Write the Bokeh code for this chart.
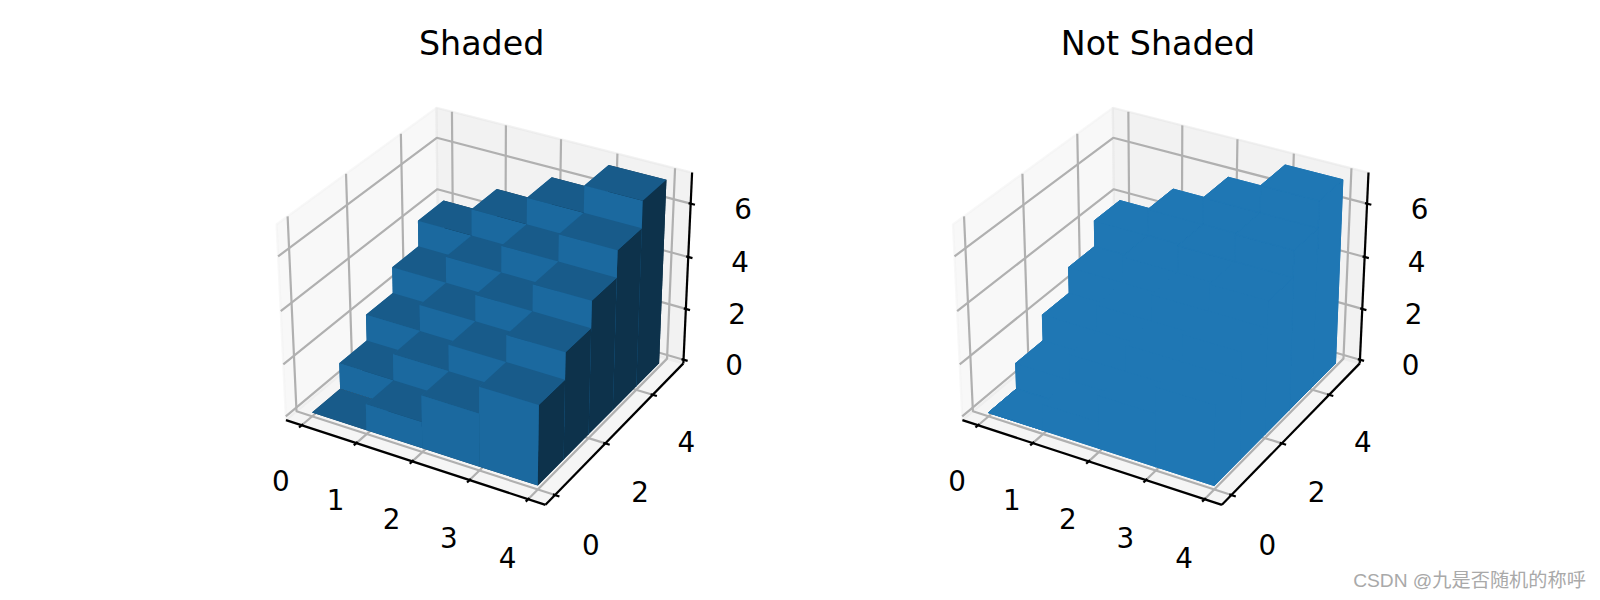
import numpy as np
from bokeh.embed import file_html
from bokeh.resources import INLINE
from bokeh.plotting import figure
from bokeh.layouts import row
from bokeh.models import Range1d, ColumnDataSource
from bokeh.core.properties import value

# ---- chart data
titles = ["Shaded", "Not Shaded"]
x_left = [0, 1, 2, 3]
y_front = [0, 1, 2, 3, 4]
bar_width = 1
bar_depth = 1
tops = [
    [0, 1, 2, 3, 4],
    [1, 2, 3, 4, 5],
    [2, 3, 4, 5, 6],
    [3, 4, 5, 6, 7],
]
x_ticks = [0, 1, 2, 3, 4]
y_ticks = [0, 2, 4]
z_ticks = [0, 2, 4, 6]
watermark = "CSDN @九是否随机的称呼"

BASE = np.array([31, 119, 180]) / 255.0
ELEV, AZIM, DIST = np.radians(30), np.radians(-60), 10.0
XLIM = (-0.2, 4.2)
YLIM = (-0.25, 5.25)
ZLIM = (0.0, 7.0)
ASPECT = np.array([4.0, 4.0, 3.0]) * 1.8294640721620434 / np.linalg.norm([4, 4, 3])

# figure geometry of the source: 1600x600 page, axes square of 462 px
AX_SIZE = 462.0
AX_CX = [481.6, 1158.0]
AX_CY = 302.5
LABEL_DROP = 11.7
TICK_OUT = 0.2
TICK_IN = 0.1


def proj_matrix():
    mins = np.array([XLIM[0], YLIM[0], ZLIM[0]])
    maxs = np.array([XLIM[1], YLIM[1], ZLIM[1]])
    d = (maxs - mins) / ASPECT
    world = np.array([[1 / d[0], 0, 0, -mins[0] / d[0]],
                      [0, 1 / d[1], 0, -mins[1] / d[1]],
                      [0, 0, 1 / d[2], -mins[2] / d[2]],
                      [0, 0, 0, 1]])
    R = 0.5 * ASPECT
    eye = R + DIST * np.array([np.cos(ELEV) * np.cos(AZIM), np.cos(ELEV) * np.sin(AZIM), np.sin(ELEV)])
    w = (eye - R) / np.linalg.norm(eye - R)
    u = np.cross([0, 0, 1.0], w)
    u /= np.linalg.norm(u)
    v = np.cross(w, u)
    rot = np.eye(4)
    rot[0, :3], rot[1, :3], rot[2, :3] = u, v, w
    tr = np.eye(4)
    tr[:3, 3] = -eye
    persp = np.array([[1, 0, 0, 0], [0, 1, 0, 0], [0, 0, 0, -DIST], [0, 0, -1, 0]], dtype=float)
    return persp @ rot @ tr @ world


M = proj_matrix()


def project(pts, cx):
    pts = np.atleast_2d(np.asarray(pts, dtype=float))
    h = np.c_[pts, np.ones(len(pts))] @ M.T
    px, py, pz = h[:, 0] / h[:, 3], h[:, 1] / h[:, 3], h[:, 2] / h[:, 3]
    scale = AX_SIZE / 0.185
    left = cx - AX_SIZE / 2
    bottom = AX_CY + AX_SIZE / 2
    return left + (px + 0.095) * scale, bottom - (py + 0.095) * scale, pz


def shade(normal):
    light = np.array([-2 / 3, -2 / 3, 1 / 3])
    s = (np.dot(normal, light) + 1) / 2
    return 0.3 + 0.7 * s


def rgb(c):
    c = np.clip(np.round(c * 255), 0, 255).astype(int)
    return "#%02x%02x%02x" % tuple(c)


def bar_faces():
    faces = []
    for i, x0 in enumerate(x_left):
        for j, y0 in enumerate(y_front):
            x1, y1, z0, z1 = x0 + bar_width, y0 + bar_depth, 0, tops[i][j]
            faces += [
                ([(x0, y0, z0), (x1, y0, z0), (x1, y1, z0), (x0, y1, z0)], (0, 0, -1)),
                ([(x0, y0, z1), (x1, y0, z1), (x1, y1, z1), (x0, y1, z1)], (0, 0, 1)),
                ([(x0, y0, z0), (x1, y0, z0), (x1, y0, z1), (x0, y0, z1)], (0, -1, 0)),
                ([(x0, y1, z0), (x1, y1, z0), (x1, y1, z1), (x0, y1, z1)], (0, 1, 0)),
                ([(x0, y0, z0), (x0, y1, z0), (x0, y1, z1), (x0, y0, z1)], (-1, 0, 0)),
                ([(x1, y0, z0), (x1, y1, z0), (x1, y1, z1), (x1, y0, z1)], (1, 0, 0)),
            ]
    return faces


def draw_axes3d(p, cx, title):
    lo = np.array([XLIM[0], YLIM[0], ZLIM[0]])
    hi = np.array([XLIM[1], YLIM[1], ZLIM[1]])
    deltas = (hi - lo) / 12
    center = (hi + lo) / 2
    l, h = lo - deltas / 4, hi + deltas / 4

    # panes
    panes = [
        ([(l[0], l[1], l[2]), (l[0], h[1], l[2]), (l[0], h[1], h[2]), (l[0], l[1], h[2])], 0.95),
        ([(l[0], h[1], l[2]), (h[0], h[1], l[2]), (h[0], h[1], h[2]), (l[0], h[1], h[2])], 0.90),
        ([(l[0], l[1], l[2]), (h[0], l[1], l[2]), (h[0], h[1], l[2]), (l[0], h[1], l[2])], 0.925),
    ]
    pxs, pys, pcs = [], [], []
    for quad, g in panes:
        sx, sy, _ = project(quad, cx)
        pxs.append(list(sx)); pys.append(list(sy)); pcs.append(rgb(np.array([g, g, g])))
    p.patches(pxs, pys, fill_color=pcs, fill_alpha=0.5, line_color=pcs, line_alpha=0.5, line_width=2.2)

    # gridlines
    gx, gy = [], []
    def add(path):
        sx, sy, _ = project(path, cx)
        gx.append(list(sx)); gy.append(list(sy))
    for t in x_ticks:
        add([(t, l[1], l[2]), (t, h[1], l[2]), (t, h[1], h[2])])
    for t in y_ticks:
        add([(l[0], t, h[2]), (l[0], t, l[2]), (h[0], t, l[2])])
    for t in z_ticks:
        add([(l[0], l[1], t), (l[0], h[1], t), (h[0], h[1], t)])
    p.multi_line(gx, gy, line_color="#b0b0b0", line_width=2.2)

    # axis lines and tick marks
    ax, ay = [], []
    def add_k(path):
        sx, sy, _ = project(path, cx)
        ax.append(list(sx)); ay.append(list(sy))
    add_k([(l[0], l[1], l[2]), (h[0], l[1], l[2])])
    add_k([(h[0], l[1], l[2]), (h[0], h[1], l[2])])
    add_k([(h[0], h[1], l[2]), (h[0], h[1], h[2])])
    lx, ly, lt = [], [], []
    def label(pos, axis_index, text):
        pos = np.array(pos, dtype=float)
        ld = 11.5 * (48 / (72 * 2 * AX_SIZE / 200)) * deltas
        for k in range(3):
            if k != axis_index:
                pos[k] += np.sign(pos[k] - center[k]) * ld[k]
        sx, sy, _ = project(pos, cx)
        lx.append(sx[0]); ly.append(sy[0] + LABEL_DROP); lt.append(text)
    for t in x_ticks:
        add_k([(t, l[1] - TICK_OUT * deltas[1], l[2]), (t, l[1] + TICK_IN * deltas[1], l[2])])
        label((t, l[1], l[2]), 0, str(t))
    for t in y_ticks:
        add_k([(h[0] + TICK_OUT * deltas[0], t, l[2]), (h[0] - TICK_IN * deltas[0], t, l[2])])
        label((h[0], t, l[2]), 1, str(t))
    for t in z_ticks:
        add_k([(h[0] + TICK_OUT * deltas[0], h[1], t), (h[0] - TICK_IN * deltas[0], h[1], t)])
        label((h[0], h[1], t), 2, str(t))
    p.multi_line(ax, ay, line_color="black", line_width=2.2)

    p.text(lx, ly, lt, text_font=value("DejaVu Sans"), text_font_size="27.8px", text_color="black",
           text_align="center", text_baseline="middle")
    p.text([cx - 0.5], [43], [title], text_font=value("DejaVu Sans"), text_font_size="33.3px", text_color="black",
           text_align="center", text_baseline="middle")


def draw_bars(p, cx, shaded):
    items = []
    for quad, normal in bar_faces():
        sx, sy, sz = project(quad, cx)
        col = BASE * shade(np.array(normal)) if shaded else BASE
        items.append((np.mean(sz), list(sx), list(sy), rgb(col)))
    items.sort(key=lambda t: t[0], reverse=True)
    src = ColumnDataSource(dict(xs=[i[1] for i in items], ys=[i[2] for i in items], c=[i[3] for i in items]))
    if shaded:
        p.patches("xs", "ys", source=src, fill_color="c", line_color=None)
    else:
        p.patches("xs", "ys", source=src, fill_color="c", line_color="c", line_width=0.9)


def make_figure(xmin, xmax):
    p = figure(width=int(xmax - xmin), height=592, output_backend="svg", toolbar_location=None,
               x_range=Range1d(xmin, xmax), y_range=Range1d(592, 0), min_border=0,
               background_fill_color="white", border_fill_color="white", outline_line_color=None)
    p.axis.visible = False
    p.grid.visible = False
    return p


p1 = make_figure(0, 792)
draw_axes3d(p1, AX_CX[0], titles[0])
draw_bars(p1, AX_CX[0], True)

p2 = make_figure(792, 1592)
draw_axes3d(p2, AX_CX[1], titles[1])
draw_bars(p2, AX_CX[1], False)
p2.text([1469], [580], [watermark], text_font=value("Liberation Sans, Noto Sans CJK SC"), text_font_size="19.2px",
        text_color="#a9a9a9", text_align="center", text_baseline="middle")

open("out.html", "w").write(file_html(row(p1, p2, spacing=0), INLINE))
